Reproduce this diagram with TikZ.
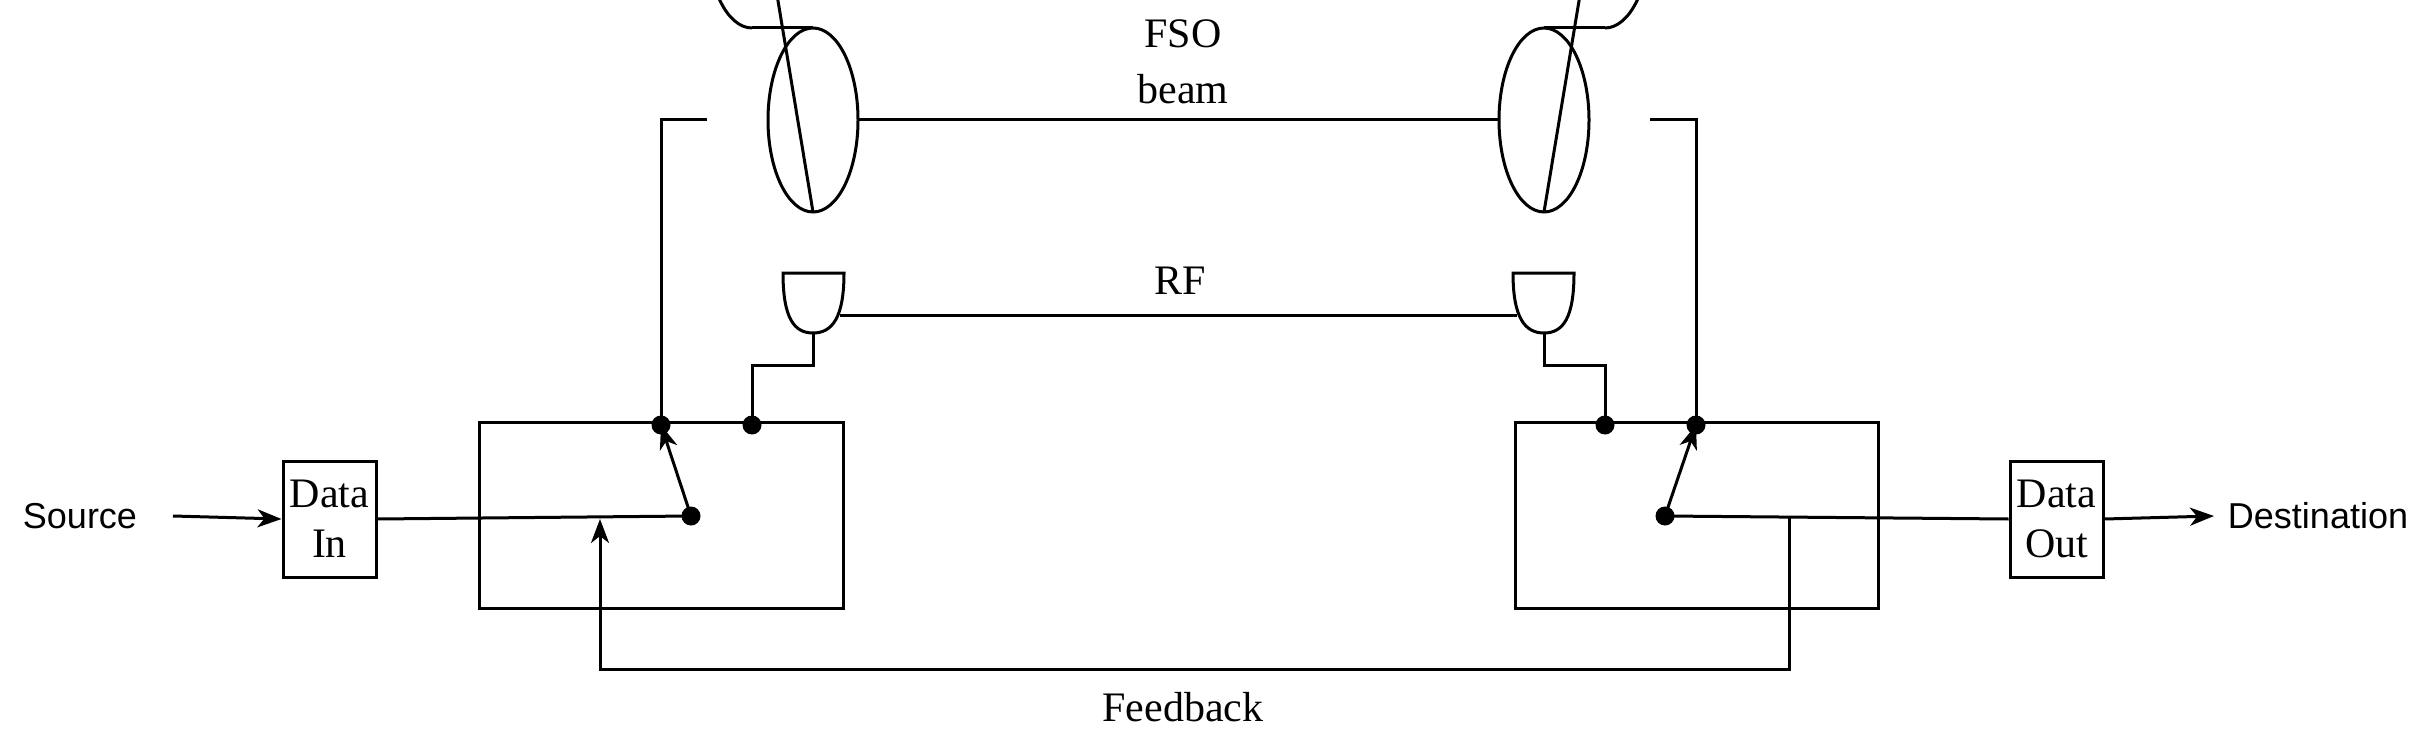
\documentclass[tikz,border=0pt]{standalone}
\usepackage{fontspec}
\setmainfont{Liberation Serif}
\newfontfamily\sansf{Liberation Sans}
\usetikzlibrary{arrows.meta}
\begin{document}
\begin{tikzpicture}[x=1pt,y=-1pt,line width=3pt,
  arr/.style={-{Stealth[length=24pt,width=18pt,inset=7pt]}},
  dot/.style={circle,fill=black,inner sep=0pt,minimum size=19pt},
  blk/.style={draw,inner sep=0pt,minimum width=93pt,minimum height=116pt,align=center,font=\fontsize{42}{50}\selectfont},
  lbl/.style={font=\fontsize{42}{56}\selectfont,align=center,inner sep=0pt},
  slbl/.style={font=\sansf\fontsize{36}{40}\selectfont,inner sep=0pt}]
\useasboundingbox (0,0) rectangle (2424,741);
% boxes
\node[draw,minimum width=364pt,minimum height=186pt,inner sep=0pt] (L) at (661,515) {};
\node[draw,minimum width=363pt,minimum height=186pt,inner sep=0pt] (R) at (1696.5,515) {};
\node[blk] (din) at (329.5,519) {Data\\In};
\node[blk] (dout) at (2056.5,519) {Data\\Out};
\node[slbl] (src) at (80,516) {Source};
\node[slbl] (dst) at (2318,516) {Destination};
\coordinate (srcA) at (173,516);
\coordinate (dstA) at (2214,516);
\draw[arr] (srcA) -- (din.west);
\draw[arr] (dout.east) -- (dstA);
% dots
\node[dot] (d1) at (661,425) {};
\node[dot] (d2) at (752,425) {};
\node[dot] (p1) at (691,516) {};
\node[dot] (d3) at (1605,425) {};
\node[dot] (d4) at (1696,425) {};
\node[dot] (p2) at (1665,516) {};
\draw (din.east) -- (p1.center);
\draw[arr] (p1.center) -- (d1.center);
\draw[arr] (p2.center) -- (d4.center);
\draw (p2.center) -- (dout.west);
% feedback
\coordinate (fb1) at (1789,516);
\coordinate (fb2) at (600,519);
\draw[arr] (fb1) -- (1789,669) -- (600,669) -- (fb2);
\node[lbl] (fbl) at (1183,707) {Feedback};
% telescopes
\draw (752,28) arc[start angle=90,end angle=270,x radius=45,y radius=92] -- (813,212);
\draw (752,28) -- (813,28);
\draw (813,120) ellipse[x radius=45,y radius=92];
\coordinate (tl) at (707,120); \coordinate (tlf) at (858,120);
\draw (1605,28) arc[start angle=90,end angle=-90,x radius=45,y radius=92] -- (1544,212);
\draw (1605,28) -- (1544,28);
\draw (1544,120) ellipse[x radius=45,y radius=92];
\coordinate (tr) at (1650,120); \coordinate (trf) at (1499,120);
\draw (tlf) -- (trf);
\draw (d1.center) -- (661,120) -- (tl);
\draw (d4.center) -- (1696,120) -- (tr);
\node[lbl] (fso) at (1183,62) {FSO\\beam};
% RF antennas
\draw (783,273) -- (844,273) .. controls (844,318) and (832,333) .. (813,333) .. controls (794,333) and (783,318) .. (783,273) -- cycle;
\draw (1513,273) -- (1574,273) .. controls (1574,318) and (1563,333) .. (1544,333) .. controls (1525,333) and (1513,318) .. (1513,273) -- cycle;
\coordinate (rl) at (840,315); \coordinate (rr) at (1517,315);
\draw (rl) -- (rr);
\draw (d2.center) -- (752,365) -- (813,365) -- (813,333);
\draw (d3.center) -- (1605,365) -- (1544,365) -- (1544,333);
\node[lbl] (rf) at (1180,281) {RF};
\end{tikzpicture}
\end{document}
